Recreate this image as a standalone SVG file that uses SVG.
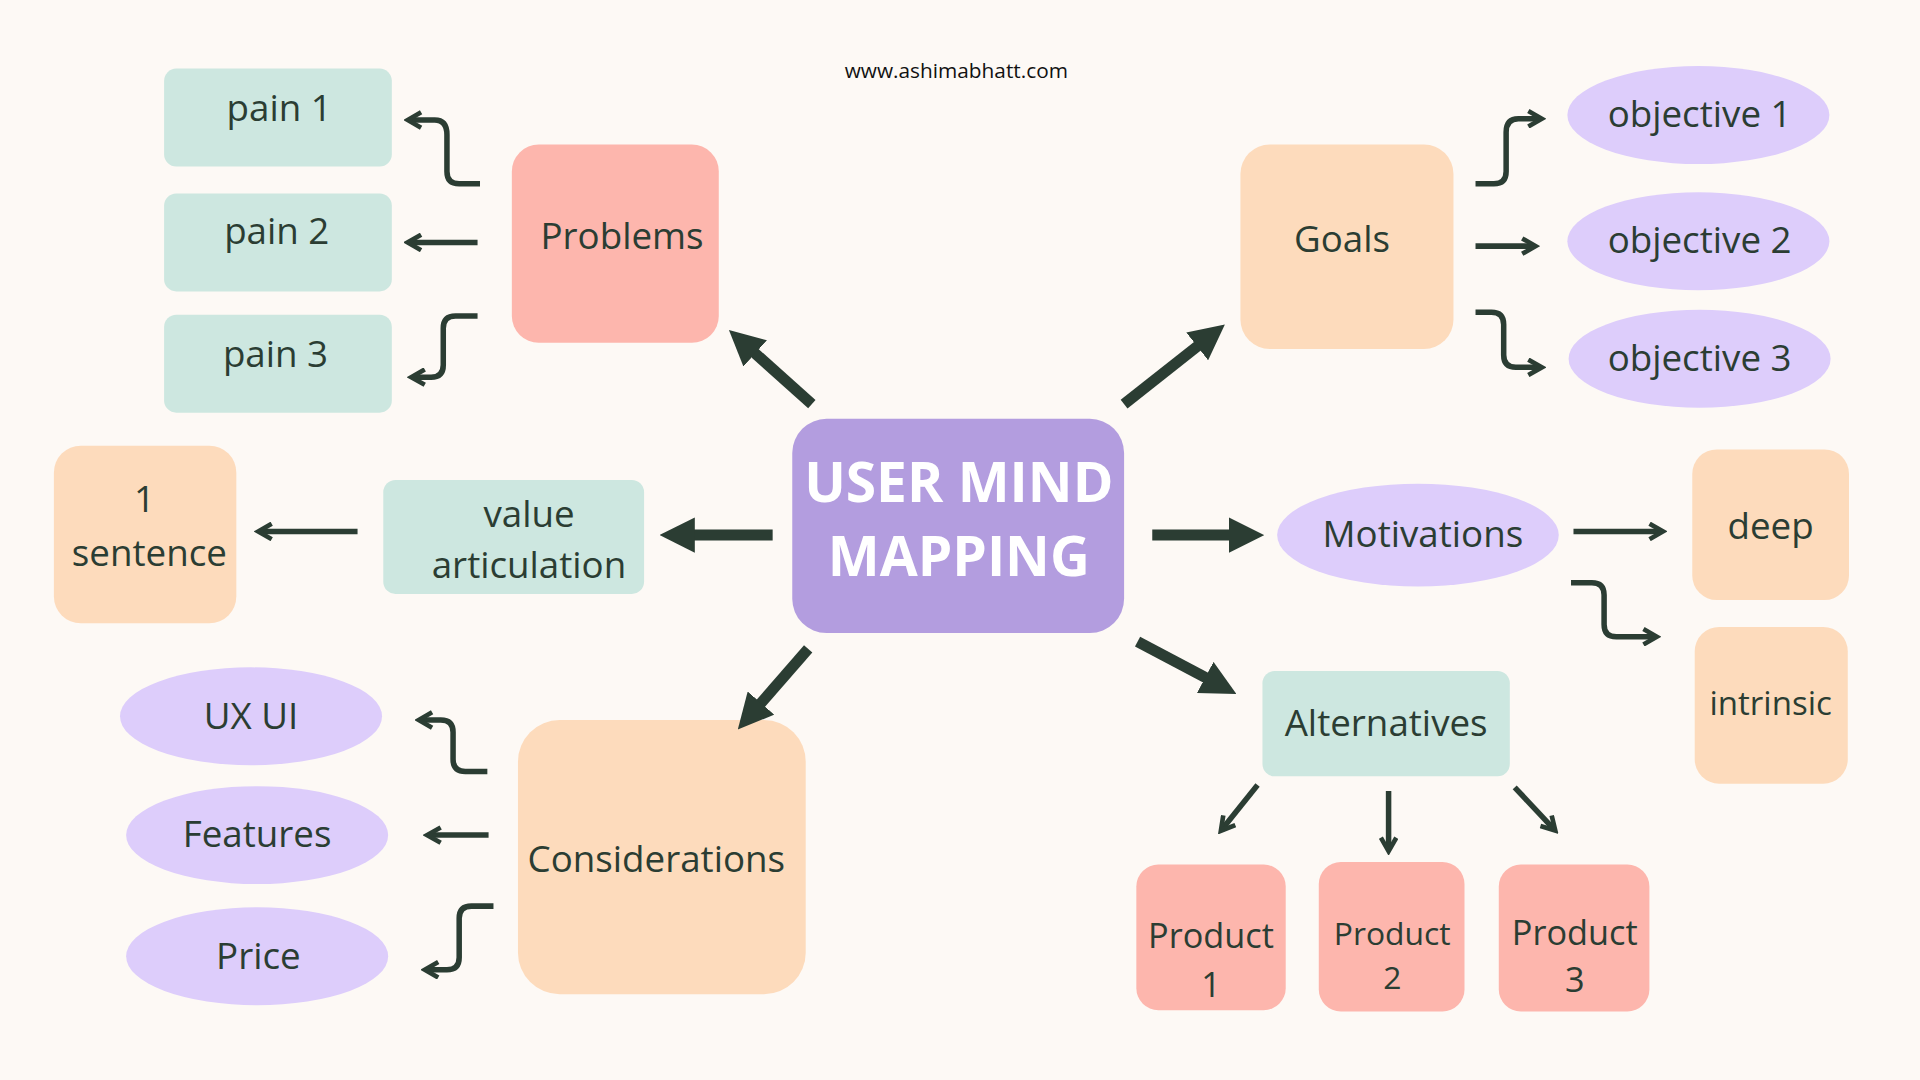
<svg xmlns="http://www.w3.org/2000/svg" width="1920" height="1080" viewBox="0 0 1920 1080">
<defs>
<marker id="ah" viewBox="0 0 10 10" refX="5" refY="5" markerWidth="3.2" markerHeight="3.2" orient="auto"><path d="M0,0 L10,5 L0,10 Z" fill="#2b3d33"/></marker>
<marker id="ahs" viewBox="0 0 10 10" refX="6" refY="5" markerWidth="3.5" markerHeight="3.5" orient="auto"><path d="M1,1 L8,5 L1,9" fill="none" stroke="#2b3d33" stroke-width="2.4" stroke-linejoin="miter"/></marker>
<style>
.t{font-family:"Open Sans","Liberation Sans",sans-serif;fill:#2b3d33;text-anchor:middle;font-size:30px}
.teal{fill:#cde7e0}.pink{fill:#fdb6ad}.peach{fill:#fddbbc}.lav{fill:#ddcdfb}
.m{stroke:#2b3d33;stroke-width:9;fill:none;marker-end:url(#ah)}
.s{stroke:#2b3d33;stroke-width:4.5;fill:none;marker-end:url(#ahs)}
</style>
</defs>
<rect width="1920" height="1080" fill="#fdf9f5"/>
<g transform="scale(1.2245)">
<text x="781" y="64" class="t" style="font-size:17px;fill:#111">www.ashimabhatt.com</text>
<g id="center"><rect x="647" y="342" width="271" height="175" rx="28" fill="#b39ddf"/><text x="783" y="410" class="t" style="fill:#fff;font-size:45px;font-weight:bold">USER MIND</text><text x="783" y="470" class="t" style="fill:#fff;font-size:45px;font-weight:bold">MAPPING</text></g>
<g id="problems"><rect x="418" y="118" width="169" height="162" rx="22" class="pink"/><text x="508" y="203" class="t">Problems</text></g>
<g id="pain1"><rect x="134" y="56" width="186" height="80" rx="10" class="teal"/><text x="228" y="99" class="t">pain 1</text></g>
<g id="pain2"><rect x="134" y="158" width="186" height="80" rx="10" class="teal"/><text x="226" y="199" class="t">pain 2</text></g>
<g id="pain3"><rect x="134" y="257" width="186" height="80" rx="10" class="teal"/><text x="225" y="300" class="t">pain 3</text></g>
<g id="goals"><rect x="1013" y="118" width="174" height="167" rx="24" class="peach"/><text x="1096" y="206" class="t">Goals</text></g>
<g id="obj1"><ellipse cx="1387" cy="94" rx="107" ry="40" class="lav"/><text x="1388" y="104" class="t">objective 1</text></g>
<g id="obj2"><ellipse cx="1387" cy="197" rx="107" ry="40" class="lav"/><text x="1388" y="207" class="t">objective 2</text></g>
<g id="obj3"><ellipse cx="1388" cy="293" rx="107" ry="40" class="lav"/><text x="1388" y="303" class="t">objective 3</text></g>
<g id="value"><rect x="313" y="392" width="213" height="93" rx="10" class="teal"/><text x="432" y="430" class="t">value</text><text x="432" y="472" class="t">articulation</text></g>
<g id="sentence"><rect x="44" y="364" width="149" height="145" rx="22" class="peach"/><text x="118" y="418" class="t">1</text><text x="122" y="462" class="t">sentence</text></g>
<g id="motivations"><ellipse cx="1158" cy="437" rx="115" ry="42" class="lav"/><text x="1162" y="447" class="t">Motivations</text></g>
<g id="deep"><rect x="1382" y="367" width="128" height="123" rx="20" class="peach"/><text x="1446" y="440" class="t">deep</text></g>
<g id="intrinsic"><rect x="1384" y="512" width="125" height="128" rx="20" class="peach"/><text x="1446" y="584" class="t" style="font-size:27px">intrinsic</text></g>
<g id="alternatives"><rect x="1031" y="548" width="202" height="86" rx="10" class="teal"/><text x="1132" y="601" class="t">Alternatives</text></g>
<g id="p1"><rect x="928" y="706" width="122" height="119" rx="18" class="pink"/><text x="989" y="774" class="t" style="font-size:28px">Product</text><text x="989" y="814" class="t" style="font-size:28px">1</text></g>
<g id="p2"><rect x="1077" y="704" width="119" height="122" rx="18" class="pink"/><text x="1137" y="772" class="t" style="font-size:26px">Product</text><text x="1137" y="808" class="t" style="font-size:26px">2</text></g>
<g id="p3"><rect x="1224" y="706" width="123" height="120" rx="18" class="pink"/><text x="1286" y="772" class="t" style="font-size:28px">Product</text><text x="1286" y="810" class="t" style="font-size:28px">3</text></g>
<g id="considerations"><rect x="423" y="588" width="235" height="224" rx="34" class="peach"/><text x="536" y="712" class="t">Considerations</text></g>
<g id="uxui"><ellipse cx="205" cy="585" rx="107" ry="40" class="lav"/><text x="205" y="595" class="t">UX UI</text></g>
<g id="features"><ellipse cx="210" cy="682" rx="107" ry="40" class="lav"/><text x="210" y="692" class="t">Features</text></g>
<g id="price"><ellipse cx="210" cy="781" rx="107" ry="40" class="lav"/><text x="211" y="791" class="t">Price</text></g>
<g id="connectors">
<path class="m" d="M663,330 L606,279"/>
<path class="m" d="M918,330 L989,274"/>
<path class="m" d="M631,437 L553,437"/>
<path class="m" d="M941,437 L1018,437"/>
<path class="m" d="M660,530 L612,585"/>
<path class="m" d="M929,524 L997,560"/>
<path class="s" d="M392,150 H375 Q365,150 365,140 V110 Q365,98 355,98 H336"/>
<path class="s" d="M390,198 H336"/>
<path class="s" d="M390,258 H372 Q362,258 362,268 V298 Q362,308 352,308 H339"/>
<path class="s" d="M292,434 H214"/>
<path class="s" d="M1205,150 H1220 Q1230,150 1230,140 V108 Q1230,97 1240,97 H1256"/>
<path class="s" d="M1205,201 H1251"/>
<path class="s" d="M1205,255 H1218 Q1228,255 1228,265 V290 Q1228,300 1238,300 H1256"/>
<path class="s" d="M1285,434 H1355"/>
<path class="s" d="M1283,476 H1300 Q1310,476 1310,486 V510 Q1310,520 1320,520 H1350"/>
<path class="s" d="M1027,641 L999,676"/>
<path class="s" d="M1134,646 V692"/>
<path class="s" d="M1237,643 L1268,676"/>
<path class="s" d="M398,630 H380 Q370,630 370,620 V598 Q370,588 360,588 H345"/>
<path class="s" d="M399,682 H352"/>
<path class="s" d="M403,740 H385 Q375,740 375,750 V782 Q375,792 365,792 H350"/>
</g>
</g>
</svg>
